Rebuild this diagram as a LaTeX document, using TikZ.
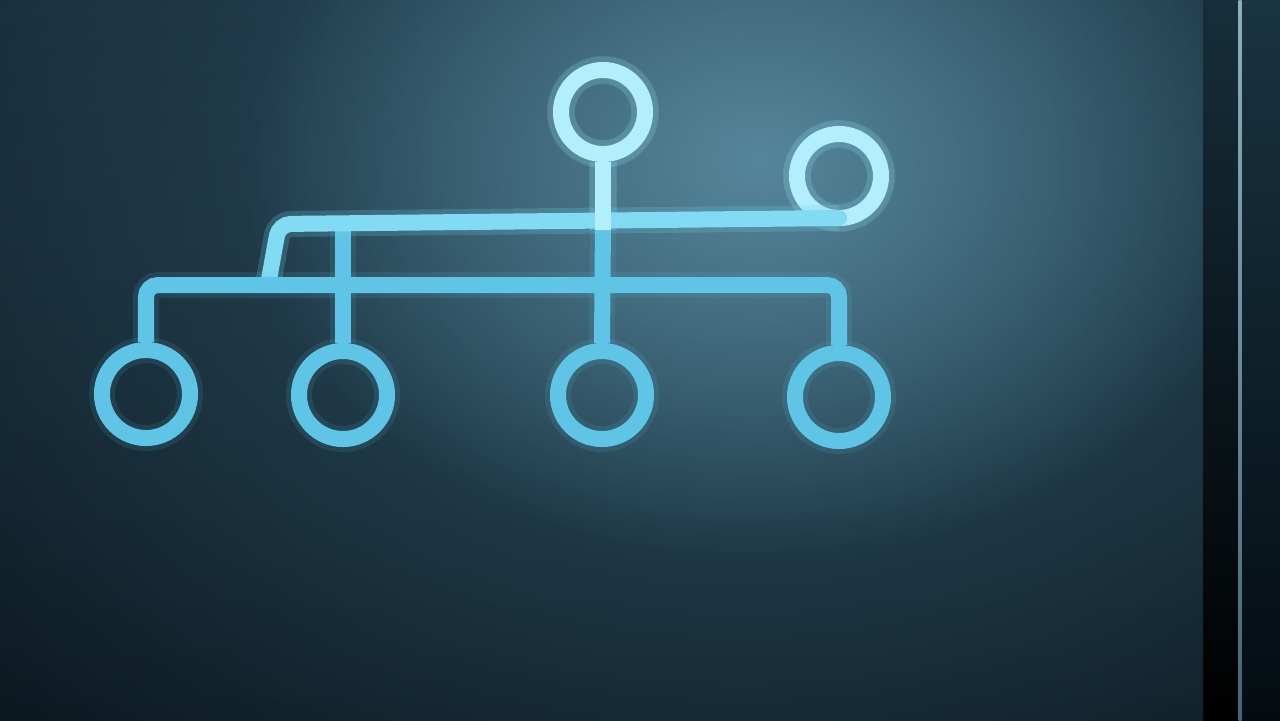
\documentclass[tikz,border=0pt]{standalone}
\usetikzlibrary{fadings}
\definecolor{bgtop}{RGB}{21,40,54}
\definecolor{bgbot}{RGB}{12,24,32}
\definecolor{glowwide}{RGB}{44,80,98}
\definecolor{glowcol}{RGB}{86,134,154}
\definecolor{wirecol}{RGB}{96,196,230}
\definecolor{wiremid}{RGB}{130,218,243}
\definecolor{wirehi}{RGB}{178,238,252}
\definecolor{bandtop}{RGB}{25,52,66}
\definecolor{bandbot}{RGB}{4,12,17}
\definecolor{edgetop}{RGB}{140,175,190}
\definecolor{edgebot}{RGB}{70,100,115}
\tikzfading[name=glowfade, inner color=transparent!0, outer color=transparent!100]
\tikzset{
 wire/.style={draw=wirecol, line width=0.16cm, rounded corners=0.12cm,
  preaction={draw=wirecol, line width=0.26cm, opacity=0.12}},
 midwire/.style={wire, draw=wiremid, preaction={draw=wiremid, line width=0.26cm, opacity=0.12}},
 hiwire/.style={wire, draw=wirehi, preaction={draw=wirehi, line width=0.28cm, opacity=0.15}},
 ring/.style={circle, inner sep=0pt, minimum size=0.88cm, wire},
 hiring/.style={circle, inner sep=0pt, minimum size=0.84cm, hiwire}
}
\newcommand{\ring}[2]{%
 \node[ring] ({#1}) at ({#2}) {};%
}
\newcommand{\hiring}[2]{%
 \node[hiring] ({#1}) at ({#2}) {};%
}

\begin{document}
\begin{tikzpicture}[x=0.01cm, y=0.01cm]
  \useasboundingbox (0,0) rectangle (1280,720);
  \fill[bgbot] (0,0) rectangle (1280,720);
  \shade[top color=bgtop, bottom color=bgbot] (0,0) rectangle (1203,720);
  \fill[glowwide, path fading=glowfade] (740,520) ellipse (1000 and 760);
  \fill[glowcol, path fading=glowfade] (760,560) ellipse (520 and 400);
  \shade[top color=bandtop, bottom color=bandbot] (1203,0) rectangle (1280,720);
  \shade[top color=bandtop!90!black, bottom color=black] (1203,0) rectangle (1238,720);
  \shade[top color=edgetop, bottom color=edgebot] (1238.5,0) rectangle (1241.5,720);

  \hiring{top}{603,608};
  \hiring{tr}{839,544};
  \ring{b1}{146,326};
  \ring{b2}{343,325};
  \ring{b3}{602,325};
  \ring{b4}{839,323};
  \coordinate (kink) at (268,435);

  \draw[wire] (b2.north) -- (b2.north |- 0,496);
  \draw[wire] (0,500 -| top.south) -- (b3.north);
  \draw[midwire, line cap=round] (kink) -- (279,496) -- ([yshift=-0.42cm]tr.center);
  \draw[hiwire] (top.south) -- (0,490 -| top.south);
  \draw[wire] (b1.north) -- (b1.north |- 0,435) -- (b4.north |- 0,435) -- (b4.north);
\end{tikzpicture}
\end{document}
